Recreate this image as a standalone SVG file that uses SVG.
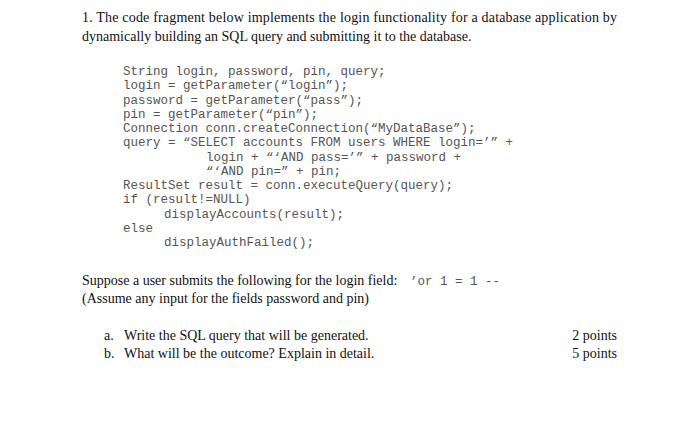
<svg xmlns="http://www.w3.org/2000/svg" width="700" height="435" viewBox="0 0 700 435">
<style>
.s{font-family:"Liberation Serif",serif;font-size:14px;fill:#111}
.c{font-family:"Liberation Mono",monospace;font-size:12.5px;fill:#555;white-space:pre}
</style>
<rect width="700" height="435" fill="#fff"/>
<g id="question">
<text class="s" x="82" y="22" textLength="535" lengthAdjust="spacing">1. The code fragment below implements the login functionality for a database application by</text>
<text class="s" x="82" y="41">dynamically building an SQL query and submitting it to the database.</text>
</g>
<g id="code">
<text class="c" x="123" y="75">String login, password, pin, query;</text>
<text class="c" x="123" y="89.3">login = getParameter(“login”);</text>
<text class="c" x="123" y="103.5">password = getParameter(“pass”);</text>
<text class="c" x="123" y="117.8">pin = getParameter(“pin”);</text>
<text class="c" x="123" y="132">Connection conn.createConnection(“MyDataBase”);</text>
<text class="c" x="123" y="146.3">query = “SELECT accounts FROM users WHERE login=’” +</text>
<text class="c" x="206" y="160.5">login + “‘AND pass=’” + password +</text>
<text class="c" x="206" y="174.8">“‘AND pin=” + pin;</text>
<text class="c" x="123" y="189">ResultSet result = conn.executeQuery(query);</text>
<text class="c" x="123" y="203.3">if (result!=NULL)</text>
<text class="c" x="164" y="217.5">displayAccounts(result);</text>
<text class="c" x="123" y="231.8">else</text>
<text class="c" x="164" y="246">displayAuthFailed();</text>
</g>
<g id="prompt">
<text class="s" x="82" y="285">Suppose a user submits the following for the login field:</text>
<text class="c" x="410" y="285">’or 1 = 1 --</text>
<text class="s" x="82" y="303">(Assume any input for the fields password and pin)</text>
</g>
<g id="parts">
<text class="s" x="104" y="340">a.</text>
<text class="s" x="124" y="340">Write the SQL query that will be generated.</text>
<text class="s" x="617" y="340" text-anchor="end">2 points</text>
<text class="s" x="104" y="358">b.</text>
<text class="s" x="124" y="358">What will be the outcome? Explain in detail.</text>
<text class="s" x="617" y="358" text-anchor="end">5 points</text>
</g>
</svg>
